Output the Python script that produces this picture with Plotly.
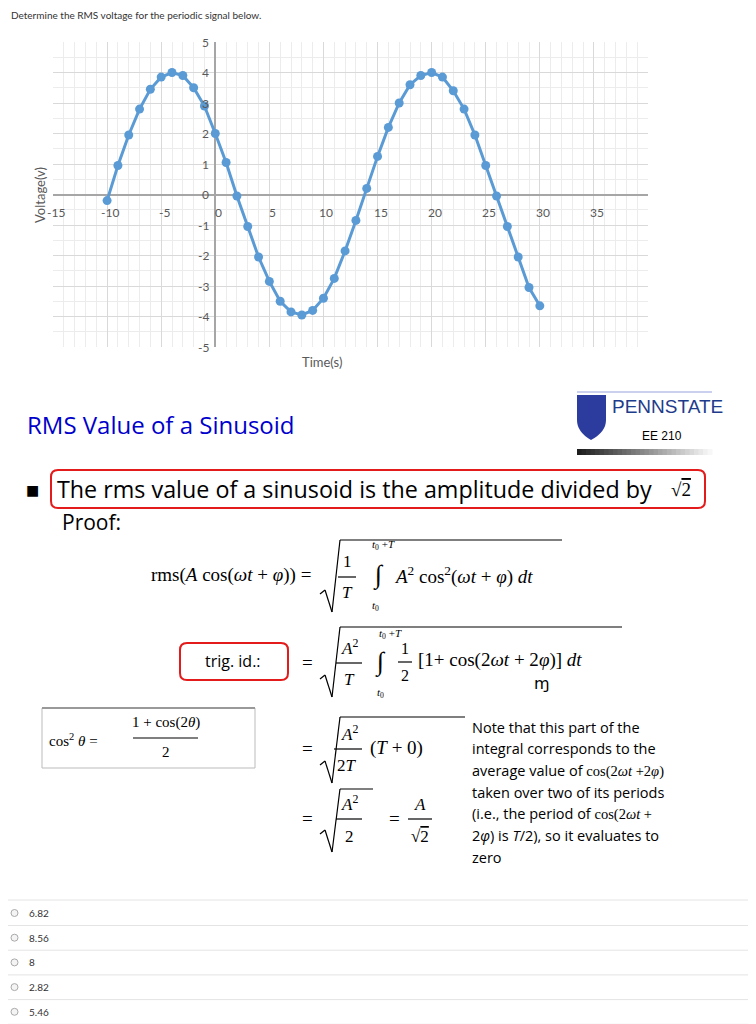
import plotly.graph_objects as go

# data
time_s = list(range(-10, 31))
voltage = [-0.2, 0.95, 1.95, 2.8, 3.45, 3.85, 4.0, 3.9, 3.5, 2.9, 2.0, 1.05, -0.05, -1.05, -2.05, -2.85, -3.5,
           -3.85, -3.95, -3.8, -3.4, -2.75, -1.85, -0.85, 0.2, 1.25, 2.2, 3.0, 3.6, 3.9, 4.0, 3.85, 3.4, 2.8,
           1.95, 0.95, -0.05, -1.05, -2.05, -3.05, -3.65]
x_ticks = [-15, -10, -5, 0, 5, 10, 15, 20, 25, 30, 35]
y_ticks = [5, 4, 3, 2, 1, 0, -1, -2, -3, -4, -5]
choices = ["6.82", "8.56", "8", "2.82", "5.46"]

# page has an 8px body margin, so work in reference pixels shifted by 8
OFF = 8
W, H = 756 - OFF, 1024 - OFF
def px(x): return (x - OFF) / W
def py(y): return 1 - (y - OFF) / H

fig = go.Figure()
fig.add_trace(go.Scatter(x=time_s, y=voltage, mode="lines+markers",
                         line=dict(color="#5b9bd5", width=3),
                         marker=dict(color="#5b9bd5", size=9), showlegend=False))

grid = dict(showgrid=True, gridcolor="#d9d9d9", gridwidth=1, zeroline=True, zerolinecolor="#a6a6a6",
            zerolinewidth=1.5, showticklabels=False, ticks="")
fig.update_xaxes(range=[-15, 40], domain=[px(53), px(648)], dtick=5,
                 minor=dict(dtick=1, showgrid=True, gridcolor="#ececec"), **grid)
fig.update_yaxes(range=[-5, 5], domain=[py(347), py(42)], dtick=1,
                 minor=dict(dtick=0.5, showgrid=True, gridcolor="#ececec"), **grid)

ann = []
tickfont = dict(family="Lato", size=12, color="#595959")
for t in x_ticks:
    ann.append(dict(x=t, y=0, xref="x", yref="y", text=str(t), showarrow=False, font=tickfont,
                    yanchor="top", yshift=-8, xshift=3))
for t in y_ticks:
    ann.append(dict(x=0, y=t, xref="x", yref="y", text=str(t), showarrow=False, font=tickfont,
                    xanchor="right", xshift=-4))

def txt(x, y, s, size=14, family="Liberation Serif", color="black", xa="left", ya="middle", angle=0):
    ann.append(dict(x=px(x), y=py(y), xref="paper", yref="paper", text=s, showarrow=False,
                    font=dict(family=family, size=size, color=color), xanchor=xa, yanchor=ya,
                    textangle=angle, align="left"))

txt(9, 15, "Determine the RMS voltage for the periodic signal below.", 10, "Lato", "#333")
txt(40, 195, "Voltage(v)", 13, "Lato", "#595959", xa="center", angle=-90)
txt(322, 362, "Time(s)", 13, "Lato", "#595959", xa="center")

comic = "Open Sans"
txt(25, 425, "RMS Value of a Sinusoid", 24, comic, "#0000cc")
txt(610, 407, "PENNSTATE", 19, "Liberation Sans Narrow, Liberation Sans", "#1e3c8c")
txt(662, 436, "EE 210", 12, "Liberation Sans", "black", xa="center")
txt(24, 490, "■", 14, "DejaVu Sans")
txt(55, 489, "The rms value of a sinusoid is the amplitude divided by", 23.3, comic)
txt(681, 489, "√<span style='text-decoration:overline'>2</span>", 19, "Liberation Serif", xa="center")
txt(60, 522, "Proof:", 21, comic)

# equations
I = lambda s: "<i>" + s + "</i>"
txt(313, 575, "rms(" + I("A") + " cos(" + I("ωt") + " + " + I("φ") + ")) =", 19, xa="right")
txt(347, 561, "1", 17, xa="center"); txt(347, 592, I("T"), 17, xa="center")
txt(378, 575, "∫", 26, xa="center")
txt(383, 545, I("t") + "<sub>0</sub> +" + I("T"), 11, xa="center")
txt(375, 606, I("t") + "<sub>0</sub>", 11, xa="center")
txt(392, 575, I("A") + "<sup>2</sup> cos<sup>2</sup>(" + I("ωt") + " + " + I("φ") + ") " + I("dt"), 19)

txt(233, 661, "trig. id.:", 16, "Open Sans", xa="center")
txt(307, 662, "=", 19, xa="center")
txt(349, 647, I("A") + "<sup>2</sup>", 17, xa="center"); txt(349, 679, I("T"), 17, xa="center")
txt(380, 662, "∫", 26, xa="center")
txt(390, 634, I("t") + "<sub>0</sub> +" + I("T"), 11, xa="center")
txt(380, 693, I("t") + "<sub>0</sub>", 11, xa="center")
txt(405, 648, "1", 16, xa="center"); txt(405, 675, "2", 16, xa="center")
txt(416, 660, "[1+ cos(2" + I("ωt") + " + 2" + I("φ") + ")] " + I("dt"), 19)
txt(542, 683, "ɱ", 16, "DejaVu Sans", xa="center")

txt(47, 740, "cos<sup>2</sup> " + I("θ") + " =", 15)
txt(166, 722, "1 + cos(2" + I("θ") + ")", 15, xa="center")
txt(166, 752, "2", 15, xa="center")

txt(307, 748, "=", 19, xa="center")
txt(349, 733, I("A") + "<sup>2</sup>", 17, xa="center"); txt(347, 765, "2" + I("T"), 17, xa="center")
txt(368, 748, "(" + I("T") + " + 0)", 19)
txt(307, 818, "=", 19, xa="center")
txt(349, 803, I("A") + "<sup>2</sup>", 17, xa="center"); txt(349, 836, "2", 17, xa="center")
txt(395, 818, "=", 19, xa="center")
txt(420, 804, I("A"), 17, xa="center"); txt(420, 836, "√<span style='text-decoration:overline'>2</span>", 17, xa="center")

note = ["Note that this part of the", "integral corresponds to the",
        "average value of <span style='font-family:Liberation Serif'>cos(2<i>ωt</i> +2<i>φ</i>)</span>",
        "taken over two of its periods",
        "(i.e., the period of <span style='font-family:Liberation Serif'>cos(2<i>ωt</i> +</span>",
        "2<i>φ</i>) is <i>T</i>/2), so it evaluates to", "zero"]
for i, s in enumerate(note):
    txt(470, 727 + i * 21.7, s, 14.5, comic)

for i, c in enumerate(choices):
    y = 913 + i * 24.7
    txt(27, y, c, 10, "Lato", "#333")

shapes = []
def line(x0, y0, x1, y1, color="black", w=1.2):
    shapes.append(dict(type="line", xref="paper", yref="paper", x0=px(x0), y0=py(y0), x1=px(x1), y1=py(y1),
                       line=dict(color=color, width=w)))

def rbox(x0, y0, x1, y1, r=7, color="#e31b1b", w=2):
    X = lambda v: f"{px(v):.5f}"
    Y = lambda v: f"{py(v):.5f}"
    p = (f"M {X(x0+r)},{Y(y0)} L {X(x1-r)},{Y(y0)} Q {X(x1)},{Y(y0)} {X(x1)},{Y(y0+r)} "
         f"L {X(x1)},{Y(y1-r)} Q {X(x1)},{Y(y1)} {X(x1-r)},{Y(y1)} L {X(x0+r)},{Y(y1)} "
         f"Q {X(x0)},{Y(y1)} {X(x0)},{Y(y1-r)} L {X(x0)},{Y(y0+r)} Q {X(x0)},{Y(y0)} {X(x0+r)},{Y(y0)} Z")
    shapes.append(dict(type="path", xref="paper", yref="paper", path=p, line=dict(color=color, width=w)))

def radical(x0, ytop, ybot, x1):
    line(x0, ybot - 18, x0 + 5, ybot - 22)
    line(x0 + 5, ybot - 22, x0 + 12, ybot)
    line(x0 + 12, ybot, x0 + 20, ytop)
    line(x0 + 20, ytop, x1, ytop)

radical(320, 540, 612, 562)
line(338, 577, 356, 577)
radical(320, 627, 697, 622)
line(336, 663, 362, 663); line(398, 662, 412, 662)
radical(320, 717, 783, 465)
line(334, 749, 362, 749)
radical(320, 789, 852, 373)
line(336, 819, 362, 819); line(408, 819, 432, 819)
line(133, 738, 198, 738)

rbox(51, 470, 705, 508)
rbox(180, 643, 288, 680)
shapes.append(dict(type="rect", xref="paper", yref="paper", x0=px(42), y0=py(708), x1=px(255), y1=py(768),
                   line=dict(color="#bbbbbb", width=1)))
line(42, 708, 255, 708, "#999999", 2)
# Penn State logo
shapes.append(dict(type="path", xref="paper", yref="paper",
                   path=f"M {px(577)},{py(395)} L {px(606)},{py(395)} L {px(606)},{py(420)} "
                        f"Q {px(606)},{py(432)} {px(591)},{py(440)} Q {px(577)},{py(432)} {px(577)},{py(420)} Z",
                   fillcolor="#2b3c9e", line=dict(width=0)))
line(577, 392, 712, 392, "#b8c0e8", 1.5)
for k in range(30):
    g = int(30 + k * 7.5)
    line(577 + k * 4.5, 452, 582 + k * 4.5, 452, f"rgb({g},{g},{g})", 6)
for i in range(len(choices)):
    y = 913 + i * 24.7
    shapes.append(dict(type="circle", xref="paper", yref="paper", x0=px(11), y0=py(y - 3.5), x1=px(18), y1=py(y + 3.5),
                       line=dict(color="#aaaaaa", width=1), fillcolor="#f4f4f4"))
    line(8, y + 12.5, 756, y + 12.5, "#e4e4e4", 1)
line(8, 900, 756, 900, "#e4e4e4", 1)

fig.update_layout(width=W, height=H, margin=dict(l=0, r=0, t=0, b=0), plot_bgcolor="white",
                  paper_bgcolor="white", annotations=ann, shapes=shapes)
fig.write_html("out.html")
